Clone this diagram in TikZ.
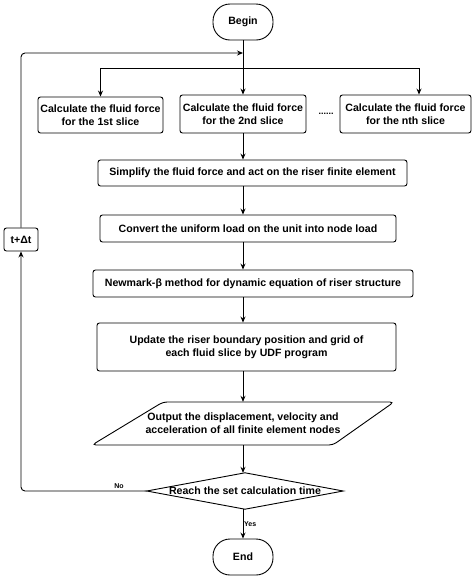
\documentclass[tikz,border=0pt]{standalone}
\usepackage{fontspec}
\setmainfont{Liberation Sans}
\usetikzlibrary{arrows.meta,shapes.geometric}
\begin{document}
\begin{tikzpicture}[x=1pt,y=-1pt,
  every node/.style={font=\fontsize{10.6}{13}\selectfont\bfseries, align=center, inner sep=0pt},
  proc/.style={draw, line width=0.9pt, rounded corners=2.5pt},
  term/.style={draw, line width=0.9pt, rounded corners=17pt, minimum width=60pt, minimum height=36pt},
  arr/.style={line width=0.9pt, -{Stealth[length=6pt,width=5pt]}},
  ln/.style={line width=0.9pt},
  small/.style={font=\fontsize{7}{8}\selectfont\bfseries}
]
\useasboundingbox (0,0) rectangle (474,579);
\node[term] (begin) at (243,22) {Begin};
\node[proc, minimum width=125pt, minimum height=36pt] (box1) at (100.5,115) {Calculate the fluid force\\for the 1st slice};
\node[proc, minimum width=126pt, minimum height=38pt] (box2) at (243,114) {Calculate the fluid force\\for the 2nd slice};
\node[proc, minimum width=131pt, minimum height=38pt] (box3) at (405.5,114) {Calculate the fluid force\\for the nth slice};
\node[font=\fontsize{9}{10}\selectfont\bfseries] (dots) at (326,114) {......};
\node[proc, minimum width=309pt, minimum height=26pt] (simp) at (252.5,173) {Simplify the fluid force and act on the riser finite element};
\node[proc, minimum width=296pt, minimum height=27pt] (conv) at (248,228.5) {Convert the uniform load on the unit into node load};
\node[proc, minimum width=320pt, minimum height=27pt] (newm) at (253,283.5) {Newmark-β method for dynamic equation of riser structure};
\node[proc, minimum width=299pt, minimum height=48pt] (upd) at (246.5,347) {Update the riser boundary position and grid of\\each fluid slice by UDF program};
\node[minimum width=302pt, minimum height=43pt] (out) at (243,423.5) {Output the displacement, velocity and\\acceleration of all finite element nodes};
\draw[ln, rounded corners=4pt] (163,402) -- (394,402) -- (333,445) -- (92,445) -- cycle;
\node[minimum width=196pt, minimum height=36pt] (dec) at (245,491) {Reach the set calculation time};
\draw[ln] (dec.west) -- (dec.north) -- (dec.east) -- (dec.south) -- cycle;
\node[term] (end) at (243,557) {End};
\node[proc, minimum width=34pt, minimum height=23pt] (tdt) at (21,239.5) {t+Δt};
\coordinate (split) at (243,68);
\coordinate (loopin) at (243,53);
% main flow
\draw[arr] (begin) -- (box2);
\draw[arr] (split) -| (box1.north);
\draw[arr] (split) -| ([xshift=13.5pt]box3.north);
\draw[arr] (box2) -- (box2 |- simp.north);
\draw[arr] (box2 |- simp.south) -- (box2 |- conv.north);
\draw[arr] (box2 |- conv.south) -- (box2 |- newm.north);
\draw[arr] (box2 |- newm.south) -- (box2 |- upd.north);
\draw[arr] (box2 |- upd.south) -- (out.north);
\draw[arr] (out.south) -- (box2 |- dec.north);
\draw[arr] (box2 |- dec.south) -- (end);
\node[small, anchor=west] (yes) at (244,524) {Yes};
% loop
\draw[arr, rounded corners=4pt] (dec.west) -| (tdt.south);
\draw[arr, rounded corners=4pt] (tdt.north) |- (loopin);
\node[small] (no) at (119,486) {No};
\end{tikzpicture}
\end{document}
